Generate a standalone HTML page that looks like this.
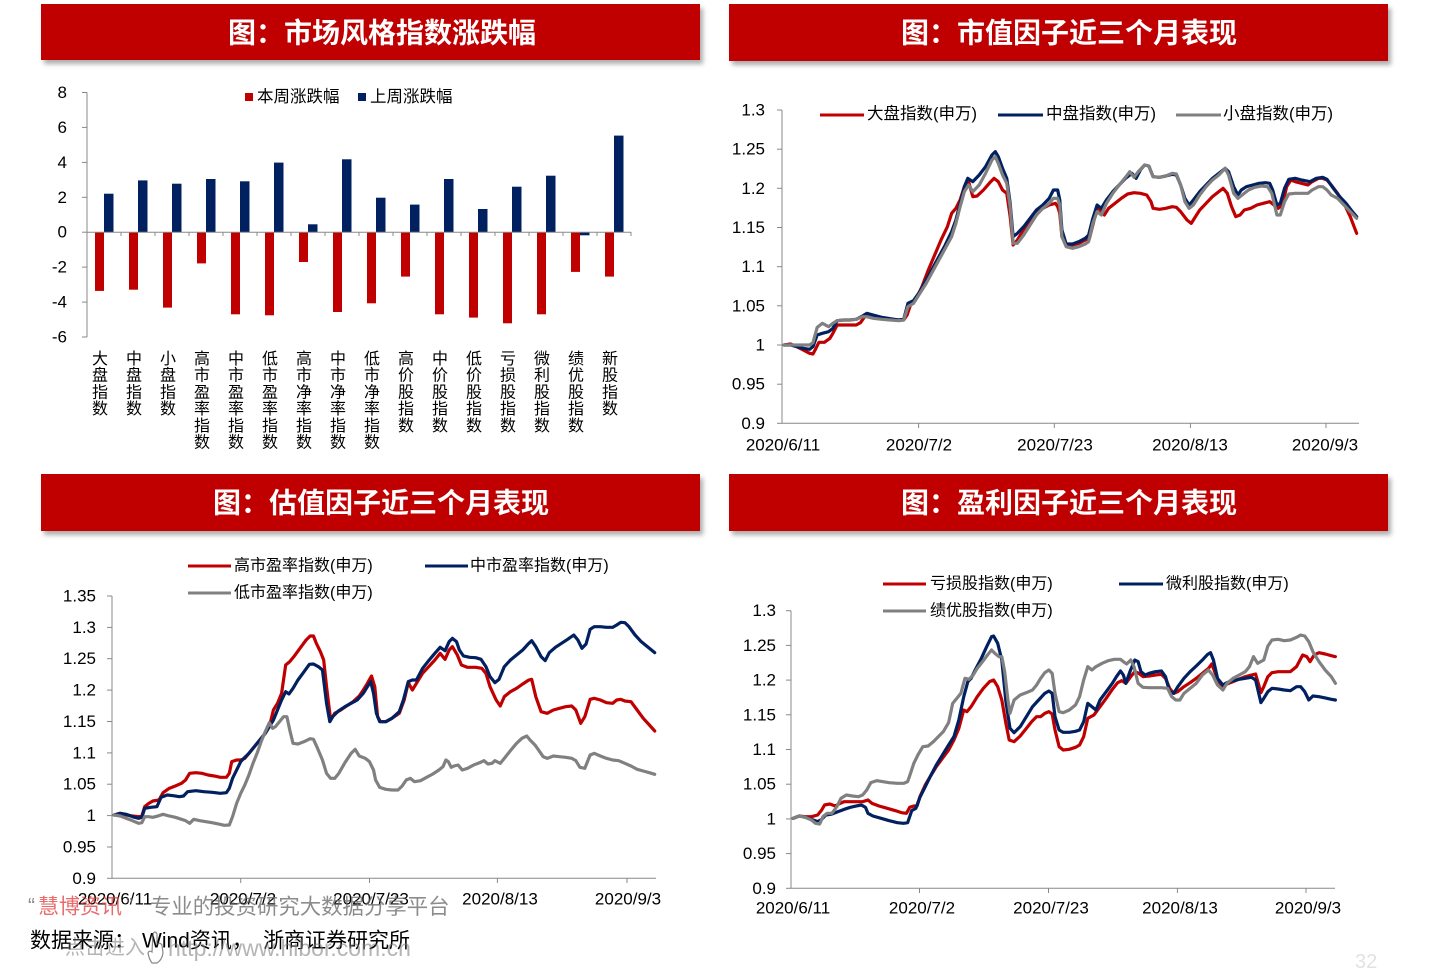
<!DOCTYPE html>
<html><head><meta charset="utf-8"><style>
html,body{margin:0;padding:0;background:#fff;}
svg{display:block;}
text{font-family:"Liberation Sans","Noto Sans CJK SC",sans-serif;}
</style></head><body>
<svg width="1440" height="974" viewBox="0 0 1440 974" xmlns="http://www.w3.org/2000/svg">
<defs>
<filter id="sh" x="-5%" y="-20%" width="110%" height="150%">
<feDropShadow dx="3" dy="4" stdDeviation="2.5" flood-color="#777" flood-opacity="0.6"/>
</filter>
</defs>

<!-- Title boxes -->
<rect x="41" y="4" width="659" height="56" fill="#C00000" filter="url(#sh)"/>
<rect x="729" y="4" width="659" height="57" fill="#C00000" filter="url(#sh)"/>
<rect x="41" y="474" width="659" height="57" fill="#C00000" filter="url(#sh)"/>
<rect x="729" y="474" width="659" height="57" fill="#C00000" filter="url(#sh)"/>
<g font-size="28" font-weight="bold" fill="#fff" text-anchor="middle" dominant-baseline="central">
<text x="382" y="33">图：市场风格指数涨跌幅</text>
<text x="1069" y="33">图：市值因子近三个月表现</text>
<text x="381" y="503">图：估值因子近三个月表现</text>
<text x="1069" y="503">图：盈利因子近三个月表现</text>
</g>

<!-- ============ Chart 1: bar chart ============ -->
<g stroke="#888" stroke-width="1" fill="none">
<line x1="87" y1="92.5" x2="87" y2="337"/>
<line x1="82" y1="92.5" x2="87" y2="92.5"/><line x1="82" y1="127.4" x2="87" y2="127.4"/>
<line x1="82" y1="162.4" x2="87" y2="162.4"/><line x1="82" y1="197.3" x2="87" y2="197.3"/>
<line x1="82" y1="232.2" x2="87" y2="232.2"/><line x1="82" y1="267.1" x2="87" y2="267.1"/>
<line x1="82" y1="302.1" x2="87" y2="302.1"/><line x1="82" y1="337" x2="87" y2="337"/>
</g>
<g font-size="17" fill="#000" text-anchor="end" dominant-baseline="central">
<text x="67" y="92.5">8</text><text x="67" y="127.4">6</text><text x="67" y="162.4">4</text>
<text x="67" y="197.3">2</text><text x="67" y="232.2">0</text><text x="67" y="267.1">-2</text>
<text x="67" y="302.1">-4</text><text x="67" y="337">-6</text>
</g>
<!-- red bars -->
<g fill="#C00000">
<rect x="95" y="232" width="9" height="58.9"/>
<rect x="129" y="232" width="9" height="57.7"/>
<rect x="163" y="232" width="9" height="75.6"/>
<rect x="197" y="232" width="9" height="31.4"/>
<rect x="231" y="232" width="9" height="82.3"/>
<rect x="265" y="232" width="9" height="83.3"/>
<rect x="299" y="232" width="9" height="30.0"/>
<rect x="333" y="232" width="9" height="80.0"/>
<rect x="367" y="232" width="9" height="71.3"/>
<rect x="401" y="232" width="9" height="44.6"/>
<rect x="435" y="232" width="9" height="82.3"/>
<rect x="469" y="232" width="9" height="85.6"/>
<rect x="503" y="232" width="9" height="91.3"/>
<rect x="537" y="232" width="9" height="82.3"/>
<rect x="571" y="232" width="9" height="39.9"/>
<rect x="605" y="232" width="9" height="44.6"/>
</g>
<!-- blue bars -->
<g fill="#002060">
<rect x="104" y="193.7" width="9.5" height="38.3"/>
<rect x="138" y="180.4" width="9.5" height="51.6"/>
<rect x="172" y="183.7" width="9.5" height="48.3"/>
<rect x="206" y="179.0" width="9.5" height="53.0"/>
<rect x="240" y="181.3" width="9.5" height="50.7"/>
<rect x="274" y="162.6" width="9.5" height="69.4"/>
<rect x="308" y="224.3" width="9.5" height="7.7"/>
<rect x="342" y="159.3" width="9.5" height="72.7"/>
<rect x="376" y="197.7" width="9.5" height="34.3"/>
<rect x="410" y="204.6" width="9.5" height="27.4"/>
<rect x="444" y="179.0" width="9.5" height="53.0"/>
<rect x="478" y="209.0" width="9.5" height="23.0"/>
<rect x="512" y="186.7" width="9.5" height="45.3"/>
<rect x="546" y="175.7" width="9.5" height="56.3"/>
<rect x="580" y="232" width="9.5" height="3.3"/>
<rect x="614" y="135.6" width="9.5" height="96.4"/>
</g>
<g stroke="#888" stroke-width="1">
<line x1="87" y1="232.2" x2="631" y2="232.2"/>
<line x1="87" y1="232" x2="87" y2="236"/><line x1="121" y1="232" x2="121" y2="236"/>
<line x1="155" y1="232" x2="155" y2="236"/><line x1="189" y1="232" x2="189" y2="236"/>
<line x1="223" y1="232" x2="223" y2="236"/><line x1="257" y1="232" x2="257" y2="236"/>
<line x1="291" y1="232" x2="291" y2="236"/><line x1="325" y1="232" x2="325" y2="236"/>
<line x1="359" y1="232" x2="359" y2="236"/><line x1="393" y1="232" x2="393" y2="236"/>
<line x1="427" y1="232" x2="427" y2="236"/><line x1="461" y1="232" x2="461" y2="236"/>
<line x1="495" y1="232" x2="495" y2="236"/><line x1="529" y1="232" x2="529" y2="236"/>
<line x1="563" y1="232" x2="563" y2="236"/><line x1="597" y1="232" x2="597" y2="236"/>
<line x1="631" y1="232" x2="631" y2="236"/>
</g>
<!-- legend chart 1 -->
<rect x="245" y="93" width="8" height="8" fill="#C00000"/>
<rect x="358" y="93" width="8" height="8" fill="#002060"/>
<g font-size="16.5" fill="#000" dominant-baseline="central">
<text x="257" y="97">本周涨跌幅</text>
<text x="370" y="97">上周涨跌幅</text>
</g>
<!-- vertical category labels -->
<g font-size="16" fill="#000" text-anchor="middle" dominant-baseline="central">
<text y="359"><tspan x="100">大</tspan><tspan x="100" dy="16.7">盘</tspan><tspan x="100" dy="16.7">指</tspan><tspan x="100" dy="16.7">数</tspan></text>
<text y="359"><tspan x="134">中</tspan><tspan x="134" dy="16.7">盘</tspan><tspan x="134" dy="16.7">指</tspan><tspan x="134" dy="16.7">数</tspan></text>
<text y="359"><tspan x="168">小</tspan><tspan x="168" dy="16.7">盘</tspan><tspan x="168" dy="16.7">指</tspan><tspan x="168" dy="16.7">数</tspan></text>
<text y="359"><tspan x="202">高</tspan><tspan x="202" dy="16.7">市</tspan><tspan x="202" dy="16.7">盈</tspan><tspan x="202" dy="16.7">率</tspan><tspan x="202" dy="16.7">指</tspan><tspan x="202" dy="16.7">数</tspan></text>
<text y="359"><tspan x="236">中</tspan><tspan x="236" dy="16.7">市</tspan><tspan x="236" dy="16.7">盈</tspan><tspan x="236" dy="16.7">率</tspan><tspan x="236" dy="16.7">指</tspan><tspan x="236" dy="16.7">数</tspan></text>
<text y="359"><tspan x="270">低</tspan><tspan x="270" dy="16.7">市</tspan><tspan x="270" dy="16.7">盈</tspan><tspan x="270" dy="16.7">率</tspan><tspan x="270" dy="16.7">指</tspan><tspan x="270" dy="16.7">数</tspan></text>
<text y="359"><tspan x="304">高</tspan><tspan x="304" dy="16.7">市</tspan><tspan x="304" dy="16.7">净</tspan><tspan x="304" dy="16.7">率</tspan><tspan x="304" dy="16.7">指</tspan><tspan x="304" dy="16.7">数</tspan></text>
<text y="359"><tspan x="338">中</tspan><tspan x="338" dy="16.7">市</tspan><tspan x="338" dy="16.7">净</tspan><tspan x="338" dy="16.7">率</tspan><tspan x="338" dy="16.7">指</tspan><tspan x="338" dy="16.7">数</tspan></text>
<text y="359"><tspan x="372">低</tspan><tspan x="372" dy="16.7">市</tspan><tspan x="372" dy="16.7">净</tspan><tspan x="372" dy="16.7">率</tspan><tspan x="372" dy="16.7">指</tspan><tspan x="372" dy="16.7">数</tspan></text>
<text y="359"><tspan x="406">高</tspan><tspan x="406" dy="16.7">价</tspan><tspan x="406" dy="16.7">股</tspan><tspan x="406" dy="16.7">指</tspan><tspan x="406" dy="16.7">数</tspan></text>
<text y="359"><tspan x="440">中</tspan><tspan x="440" dy="16.7">价</tspan><tspan x="440" dy="16.7">股</tspan><tspan x="440" dy="16.7">指</tspan><tspan x="440" dy="16.7">数</tspan></text>
<text y="359"><tspan x="474">低</tspan><tspan x="474" dy="16.7">价</tspan><tspan x="474" dy="16.7">股</tspan><tspan x="474" dy="16.7">指</tspan><tspan x="474" dy="16.7">数</tspan></text>
<text y="359"><tspan x="508">亏</tspan><tspan x="508" dy="16.7">损</tspan><tspan x="508" dy="16.7">股</tspan><tspan x="508" dy="16.7">指</tspan><tspan x="508" dy="16.7">数</tspan></text>
<text y="359"><tspan x="542">微</tspan><tspan x="542" dy="16.7">利</tspan><tspan x="542" dy="16.7">股</tspan><tspan x="542" dy="16.7">指</tspan><tspan x="542" dy="16.7">数</tspan></text>
<text y="359"><tspan x="576">绩</tspan><tspan x="576" dy="16.7">优</tspan><tspan x="576" dy="16.7">股</tspan><tspan x="576" dy="16.7">指</tspan><tspan x="576" dy="16.7">数</tspan></text>
<text y="359"><tspan x="610">新</tspan><tspan x="610" dy="16.7">股</tspan><tspan x="610" dy="16.7">指</tspan><tspan x="610" dy="16.7">数</tspan></text>
</g>

<!-- ============ Chart 2 ============ -->
<g stroke="#888" stroke-width="1" fill="none">
<line x1="782" y1="110" x2="782" y2="423.3"/>
<line x1="782" y1="423.3" x2="1359" y2="423.3"/>
<line x1="777" y1="110" x2="782" y2="110"/><line x1="777" y1="149.2" x2="782" y2="149.2"/>
<line x1="777" y1="188.3" x2="782" y2="188.3"/><line x1="777" y1="227.5" x2="782" y2="227.5"/>
<line x1="777" y1="266.7" x2="782" y2="266.7"/><line x1="777" y1="305.8" x2="782" y2="305.8"/>
<line x1="777" y1="345" x2="782" y2="345"/><line x1="777" y1="384.2" x2="782" y2="384.2"/>
<line x1="777" y1="423.3" x2="782" y2="423.3"/>
<line x1="918.6" y1="423" x2="918.6" y2="428"/><line x1="1054.3" y1="423" x2="1054.3" y2="428"/>
<line x1="1190.4" y1="423" x2="1190.4" y2="428"/><line x1="1326" y1="423" x2="1326" y2="428"/>
</g>
<g font-size="17" fill="#000" text-anchor="end" dominant-baseline="central">
<text x="765" y="110">1.3</text><text x="765" y="149.2">1.25</text><text x="765" y="188.3">1.2</text>
<text x="765" y="227.5">1.15</text><text x="765" y="266.7">1.1</text><text x="765" y="305.8">1.05</text>
<text x="765" y="345">1</text><text x="765" y="384.2">0.95</text><text x="765" y="423.3">0.9</text>
</g>
<g font-size="17" fill="#000" text-anchor="middle" dominant-baseline="central">
<text x="783" y="445">2020/6/11</text><text x="919" y="445">2020/7/2</text>
<text x="1055" y="445">2020/7/23</text><text x="1190" y="445">2020/8/13</text>
<text x="1325" y="445">2020/9/3</text>
</g>
<g transform="translate(720.51,90) scale(0.42409,0.33333)" fill="none" stroke-width="3.2" stroke-linejoin="round" stroke-linecap="round">
<polyline vector-effect="non-scaling-stroke" stroke="#C00000" points="150,765 165,762 180,770 195,780 210,790 218,792 225,775 232,757 245,757 258,745 265,730 275,705 290,705 305,705 320,705 330,698 340,680 350,678 365,682 380,686 400,688 420,690 432,690 440,675 448,645 460,630 475,590 490,540 505,495 520,450 535,410 545,370 555,355 565,330 575,290 585,275 595,320 605,318 620,300 635,278 645,265 655,275 665,300 675,310 683,380 690,465 700,450 715,420 730,390 745,365 760,355 775,345 790,340 795,350 800,370 805,440 815,465 830,465 845,460 860,450 870,445 880,395 888,350 895,360 905,375 915,355 930,340 945,325 960,312 975,308 990,310 1005,315 1015,335 1020,355 1035,358 1050,355 1065,350 1075,352 1085,365 1100,390 1110,400 1120,380 1130,360 1145,340 1160,320 1175,305 1185,295 1195,310 1205,350 1215,380 1225,375 1235,360 1250,355 1265,345 1280,340 1295,335 1305,345 1315,355 1325,345 1335,290 1345,270 1355,275 1370,280 1385,285 1395,275 1410,265 1420,265 1430,270 1440,285 1455,310 1470,340 1485,380 1500,430"/>
<polyline vector-effect="non-scaling-stroke" stroke="#002060" points="150,765 165,765 180,770 195,775 210,778 218,770 228,735 240,730 255,725 265,715 275,692 290,690 305,690 320,688 335,678 345,670 360,675 380,682 400,686 420,690 432,688 442,640 455,632 470,605 485,570 500,535 515,500 530,465 545,425 555,390 565,340 575,290 583,265 595,275 610,255 625,230 640,195 648,185 655,200 665,235 675,265 683,340 690,440 700,430 715,410 730,385 745,360 760,345 775,325 785,300 795,300 800,330 805,420 815,462 830,462 845,455 860,445 868,435 878,385 888,345 898,355 910,330 925,305 940,285 955,265 970,250 980,265 990,240 1000,225 1010,228 1020,260 1035,262 1050,258 1065,253 1075,255 1085,285 1095,325 1105,345 1115,330 1130,305 1145,285 1160,265 1175,250 1190,235 1198,245 1210,290 1220,315 1228,300 1240,290 1255,285 1270,280 1285,278 1295,280 1302,300 1312,345 1320,340 1330,295 1340,268 1355,265 1370,270 1390,275 1405,265 1420,262 1430,268 1445,295 1460,320 1475,340 1490,365 1500,380"/>
<polyline vector-effect="non-scaling-stroke" stroke="#808080" points="150,765 165,765 180,765 195,765 210,765 218,758 228,712 240,700 255,710 265,700 275,692 290,690 305,690 320,688 335,680 345,680 360,685 380,688 400,690 420,692 432,690 442,650 455,640 470,610 485,580 500,545 515,510 530,475 545,440 555,400 565,350 575,305 585,285 595,305 610,285 625,250 640,210 648,200 655,220 665,255 675,280 683,350 690,460 700,460 715,435 730,405 745,375 760,355 775,340 785,325 795,325 800,345 805,440 815,470 830,475 845,470 860,462 868,455 878,400 888,365 898,375 910,340 925,310 940,285 955,262 965,245 975,262 985,245 1000,225 1010,228 1020,260 1035,262 1050,258 1065,250 1075,252 1085,285 1095,335 1105,355 1115,345 1130,315 1145,290 1160,270 1175,255 1190,235 1198,255 1210,310 1220,325 1230,315 1245,300 1260,292 1275,288 1290,290 1300,310 1312,375 1320,375 1330,335 1340,312 1355,310 1370,310 1385,310 1395,300 1410,290 1420,290 1430,300 1440,315 1455,325 1470,345 1485,365 1500,385"/>
</g>
<g stroke-width="3">
<line x1="820" y1="115" x2="864" y2="115" stroke="#C00000"/>
<line x1="998" y1="115" x2="1043" y2="115" stroke="#002060"/>
<line x1="1176" y1="115" x2="1221" y2="115" stroke="#808080"/>
</g>
<g font-size="16.5" fill="#000" dominant-baseline="central">
<text x="867" y="114">大盘指数(申万)</text>
<text x="1046" y="114">中盘指数(申万)</text>
<text x="1223" y="114">小盘指数(申万)</text>
</g>

<!-- ============ Chart 3 ============ -->
<g stroke="#888" stroke-width="1" fill="none">
<line x1="112" y1="596" x2="112" y2="878.3"/>
<line x1="112" y1="878.3" x2="656" y2="878.3"/>
<line x1="107" y1="596" x2="112" y2="596"/><line x1="107" y1="627.4" x2="112" y2="627.4"/>
<line x1="107" y1="658.7" x2="112" y2="658.7"/><line x1="107" y1="690.1" x2="112" y2="690.1"/>
<line x1="107" y1="721.5" x2="112" y2="721.5"/><line x1="107" y1="752.9" x2="112" y2="752.9"/>
<line x1="107" y1="784.2" x2="112" y2="784.2"/><line x1="107" y1="815.6" x2="112" y2="815.6"/>
<line x1="107" y1="847" x2="112" y2="847"/><line x1="107" y1="878.3" x2="112" y2="878.3"/>
<line x1="240.7" y1="878" x2="240.7" y2="883"/><line x1="369.5" y1="878" x2="369.5" y2="883"/>
<line x1="497.4" y1="878" x2="497.4" y2="883"/><line x1="627" y1="878" x2="627" y2="883"/>
</g>
<g font-size="17" fill="#000" text-anchor="end" dominant-baseline="central">
<text x="96" y="596">1.35</text><text x="96" y="627.4">1.3</text><text x="96" y="658.7">1.25</text>
<text x="96" y="690.1">1.2</text><text x="96" y="721.5">1.15</text><text x="96" y="752.9">1.1</text>
<text x="96" y="784.2">1.05</text><text x="96" y="815.6">1</text><text x="96" y="847">0.95</text>
<text x="96" y="878.3">0.9</text>
</g>
<g font-size="17" fill="#000" text-anchor="middle" dominant-baseline="central">
<text x="115" y="899">2020/6/11</text><text x="243" y="899">2020/7/2</text>
<text x="371" y="899">2020/7/23</text><text x="500" y="899">2020/8/13</text>
<text x="628" y="899">2020/9/3</text>
</g>
<g transform="translate(40.48,540) scale(0.40866,0.33333)" fill="none" stroke-width="3.2" stroke-linejoin="round" stroke-linecap="round">
<polyline vector-effect="non-scaling-stroke" stroke="#C00000" points="180,825 195,820 210,825 225,828 240,830 248,828 255,800 265,790 275,783 290,780 300,758 315,745 330,738 345,730 355,720 365,700 380,698 395,700 410,705 425,708 440,712 455,712 462,700 468,665 480,660 490,660 500,655 510,640 520,625 530,610 540,595 550,580 560,560 570,510 580,490 590,460 600,375 610,365 620,350 635,325 650,300 660,288 668,288 675,310 685,335 693,360 700,440 710,540 720,520 735,510 750,497 765,485 780,468 790,450 800,430 810,408 818,440 825,530 832,545 845,545 860,535 878,520 890,480 900,428 910,450 920,430 935,400 950,380 965,360 978,340 990,358 1000,330 1008,320 1020,345 1030,375 1045,382 1065,382 1080,385 1090,400 1100,440 1115,480 1125,498 1135,470 1150,455 1165,445 1180,432 1195,420 1202,418 1212,470 1225,515 1240,520 1255,510 1270,505 1285,500 1300,498 1310,510 1322,550 1332,530 1345,478 1355,475 1370,480 1385,488 1400,490 1410,480 1420,478 1430,483 1445,485 1460,510 1475,535 1490,555 1503,573"/>
<polyline vector-effect="non-scaling-stroke" stroke="#002060" points="180,825 195,820 210,823 225,830 240,835 248,832 255,805 270,802 285,800 295,772 310,765 325,767 340,770 350,768 360,755 380,752 400,755 420,757 440,760 455,758 462,745 470,715 480,690 490,665 500,652 510,640 520,625 530,610 540,595 550,580 560,560 570,540 580,510 590,480 600,455 608,462 618,445 630,420 645,395 658,373 668,372 680,380 690,390 700,490 708,545 715,530 730,512 745,500 760,490 775,480 790,460 800,440 808,425 815,460 822,520 830,545 845,545 860,535 878,515 888,480 900,425 910,420 920,420 935,385 950,362 965,340 978,322 990,332 1000,305 1008,295 1018,305 1025,330 1035,348 1050,352 1065,353 1078,358 1090,380 1100,410 1112,428 1122,418 1135,380 1150,360 1165,345 1180,330 1195,310 1202,302 1212,320 1225,350 1235,362 1245,338 1260,322 1275,310 1290,298 1305,285 1315,300 1325,325 1335,312 1345,268 1355,260 1370,260 1385,262 1400,262 1410,255 1420,247 1430,248 1440,260 1455,285 1470,305 1485,320 1503,338"/>
<polyline vector-effect="non-scaling-stroke" stroke="#808080" points="180,825 195,828 210,835 225,842 240,850 248,848 255,830 265,830 275,832 290,827 300,823 315,828 330,832 345,838 355,842 365,850 375,838 390,842 405,845 420,848 435,852 450,856 462,855 470,830 480,790 490,760 500,735 510,705 520,670 530,640 540,605 550,575 560,548 568,565 575,560 585,545 595,530 603,530 610,570 618,610 630,612 645,605 660,596 668,598 678,625 690,660 700,700 710,715 720,715 730,700 745,668 760,640 770,628 780,648 795,655 805,665 815,690 820,720 830,742 845,748 860,750 875,750 885,738 895,720 905,715 915,725 930,722 945,712 960,702 975,690 985,680 992,660 998,665 1005,682 1012,678 1022,675 1032,690 1045,685 1060,675 1075,668 1085,662 1095,672 1105,670 1112,662 1125,670 1135,655 1150,632 1165,610 1178,595 1190,588 1198,600 1210,615 1220,632 1230,650 1240,655 1255,648 1270,650 1285,652 1300,655 1310,662 1320,682 1332,685 1345,645 1355,640 1370,648 1385,655 1400,660 1415,662 1430,670 1445,678 1460,688 1475,693 1490,698 1503,703"/>
</g>
<g stroke-width="3">
<line x1="188" y1="566" x2="231" y2="566" stroke="#C00000"/>
<line x1="425" y1="566" x2="468" y2="566" stroke="#002060"/>
<line x1="188" y1="593" x2="231" y2="593" stroke="#808080"/>
</g>
<g font-size="16" fill="#000" dominant-baseline="central">
<text x="234" y="566">高市盈率指数(申万)</text>
<text x="470" y="566">中市盈率指数(申万)</text>
<text x="234" y="593">低市盈率指数(申万)</text>
</g>

<!-- ============ Chart 4 ============ -->
<g stroke="#888" stroke-width="1" fill="none">
<line x1="791" y1="610.7" x2="791" y2="888.3"/>
<line x1="791" y1="888.3" x2="1335" y2="888.3"/>
<line x1="786" y1="610.7" x2="791" y2="610.7"/><line x1="786" y1="645.4" x2="791" y2="645.4"/>
<line x1="786" y1="680.1" x2="791" y2="680.1"/><line x1="786" y1="714.8" x2="791" y2="714.8"/>
<line x1="786" y1="749.5" x2="791" y2="749.5"/><line x1="786" y1="784.2" x2="791" y2="784.2"/>
<line x1="786" y1="818.9" x2="791" y2="818.9"/><line x1="786" y1="853.6" x2="791" y2="853.6"/>
<line x1="786" y1="888.3" x2="791" y2="888.3"/>
<line x1="919.5" y1="888" x2="919.5" y2="893"/><line x1="1048.5" y1="888" x2="1048.5" y2="893"/>
<line x1="1177.4" y1="888" x2="1177.4" y2="893"/><line x1="1306" y1="888" x2="1306" y2="893"/>
</g>
<g font-size="17" fill="#000" text-anchor="end" dominant-baseline="central">
<text x="776" y="610.7">1.3</text><text x="776" y="645.4">1.25</text><text x="776" y="680.1">1.2</text>
<text x="776" y="714.8">1.15</text><text x="776" y="749.5">1.1</text><text x="776" y="784.2">1.05</text>
<text x="776" y="818.9">1</text><text x="776" y="853.6">0.95</text><text x="776" y="888.3">0.9</text>
</g>
<g font-size="17" fill="#000" text-anchor="middle" dominant-baseline="central">
<text x="793" y="908">2020/6/11</text><text x="922" y="908">2020/7/2</text>
<text x="1051" y="908">2020/7/23</text><text x="1180" y="908">2020/8/13</text>
<text x="1308" y="908">2020/9/3</text>
</g>
<g transform="translate(729.6,560) scale(0.40933,0.33333)" fill="none" stroke-width="3.2" stroke-linejoin="round" stroke-linecap="round">
<polyline vector-effect="non-scaling-stroke" stroke="#C00000" points="155,775 170,768 185,770 200,770 215,765 225,750 232,735 245,732 258,738 270,730 280,725 295,725 310,725 325,725 338,720 348,730 365,738 385,745 405,752 420,758 432,760 440,742 450,738 458,738 465,710 478,675 490,650 505,620 520,595 535,570 548,540 560,505 572,450 580,455 590,440 605,410 620,385 635,365 645,360 655,380 665,420 675,490 683,540 695,545 710,528 725,505 738,485 750,470 760,470 770,460 780,455 788,462 795,510 805,560 815,570 830,568 845,562 855,555 865,530 875,475 890,465 905,440 920,415 935,388 948,368 958,362 968,370 980,350 990,335 1000,340 1010,350 1025,348 1040,345 1055,343 1065,355 1075,385 1085,400 1095,395 1110,380 1125,368 1140,355 1155,340 1170,325 1178,312 1185,335 1195,365 1205,380 1215,372 1230,365 1245,357 1260,350 1275,345 1285,342 1298,398 1305,380 1315,350 1325,338 1340,335 1355,335 1370,335 1385,320 1400,285 1410,290 1418,305 1428,285 1440,278 1455,282 1470,287 1480,290"/>
<polyline vector-effect="non-scaling-stroke" stroke="#002060" points="155,775 170,768 185,772 200,778 215,785 225,778 235,765 250,762 265,755 280,748 295,742 310,738 322,735 332,742 338,760 350,768 370,775 390,782 410,788 425,790 435,788 445,752 455,745 465,712 478,680 490,650 505,615 520,585 535,555 548,530 560,480 572,410 582,365 590,355 600,330 615,295 628,260 640,230 645,228 655,250 665,300 675,425 685,505 695,518 710,500 725,470 740,440 755,420 770,400 780,393 788,400 795,470 805,510 815,517 830,517 845,514 855,510 865,485 875,430 883,438 895,450 905,420 920,395 935,370 945,350 955,333 962,345 968,370 978,335 990,300 998,305 1005,335 1015,345 1025,340 1040,335 1055,333 1065,350 1075,395 1085,400 1095,380 1110,355 1125,335 1140,318 1155,300 1168,283 1175,278 1182,300 1192,355 1205,375 1215,368 1230,362 1245,358 1260,355 1275,352 1285,360 1298,428 1305,415 1315,395 1325,385 1340,387 1355,390 1370,392 1385,380 1395,380 1405,395 1415,420 1425,408 1440,410 1455,414 1470,418 1480,420"/>
<polyline vector-effect="non-scaling-stroke" stroke="#808080" points="155,775 170,768 185,772 200,780 210,790 220,792 228,770 238,760 250,760 262,740 272,715 285,705 300,708 315,710 325,705 335,690 345,668 360,662 375,665 390,668 410,670 425,670 435,665 442,640 450,610 460,585 472,560 485,558 498,545 510,530 522,515 535,488 545,430 555,415 565,400 575,355 585,358 595,345 605,325 618,305 630,285 640,270 648,280 658,290 665,290 672,335 680,420 685,460 695,420 710,405 725,398 740,390 750,375 760,355 770,338 780,330 788,340 795,400 805,455 815,458 830,450 845,435 855,410 865,360 875,320 885,330 895,320 910,310 925,302 940,298 955,298 962,305 970,312 980,300 988,320 998,370 1010,382 1025,383 1040,383 1055,383 1070,385 1080,410 1090,420 1100,420 1110,400 1125,385 1140,370 1155,345 1170,330 1180,345 1192,375 1205,390 1215,370 1230,355 1245,345 1260,335 1270,320 1280,290 1290,310 1305,300 1315,258 1325,240 1340,238 1355,242 1370,240 1385,232 1395,225 1405,228 1415,245 1425,275 1440,305 1455,330 1470,350 1480,370"/>
</g>
<g stroke-width="3">
<line x1="883" y1="584" x2="926" y2="584" stroke="#C00000"/>
<line x1="1119" y1="584" x2="1163" y2="584" stroke="#002060"/>
<line x1="883" y1="611" x2="926" y2="611" stroke="#808080"/>
</g>
<g font-size="16" fill="#000" dominant-baseline="central">
<text x="930" y="584">亏损股指数(申万)</text>
<text x="1166" y="584">微利股指数(申万)</text>
<text x="930" y="611">绩优股指数(申万)</text>
</g>

<!-- ============ Footer ============ -->
<g font-size="21" fill="#000" dominant-baseline="central">
<text x="30" y="941">数据来源：</text>
<text x="142" y="941">Wind资讯，</text>
<text x="263" y="941">浙商证券研究所</text>
</g>
<g dominant-baseline="central" opacity="0.75">
<text x="28" y="906" font-size="21" fill="#666">“</text>
<text x="38" y="907" font-size="21" fill="#e23a3a">慧博资讯</text>
<text x="126" y="906" font-size="21" fill="#666">”</text>
<text x="150" y="907" font-size="21.4" fill="#666">专业的投资研究大数据分享平台</text>
</g>
<g dominant-baseline="central" opacity="0.55" fill="#777">
<text x="65" y="948" font-size="20">点击进入</text>
<text x="168" y="948" font-size="23">http://www.hibor.com.cn</text>
</g>
<path d="M153,934 q2,-4 4,0 l0,10 q3,-2 5,1 l1,8 q-1,7 -6,10 l-5,0 q-3,-4 -4,-10 q1,-3 4,-1 z" fill="none" stroke="#555" stroke-width="1.2" opacity="0.7"/>
<text x="1355" y="962" font-size="20" fill="#e2e2e2" font-family="Liberation Serif, serif" dominant-baseline="central">32</text>
</svg>
</body></html>
